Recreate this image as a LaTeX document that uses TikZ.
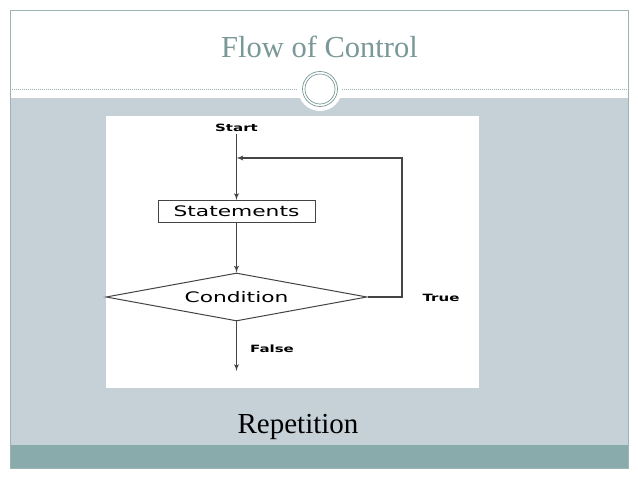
\documentclass[tikz,border=0pt]{standalone}
\usepackage{fontspec}
\setmainfont{Liberation Serif}
\newfontfamily\chartfont{DejaVu Sans}
\usepackage{graphicx}
\usetikzlibrary{arrows,shapes}
\definecolor{slidegray}{HTML}{C5D1D7}
\definecolor{slideteal}{HTML}{8AABAB}
\definecolor{titleteal}{HTML}{7A9898}
\definecolor{frameline}{HTML}{9DB4B4}
\definecolor{chartline}{HTML}{444444}
\newcommand{\chartwide}[1]{\scalebox{1.5}[1]{#1}}

\begin{document}
\begin{tikzpicture}[x=1pt,y=-1pt,>=latex',auto]
    % slide look
    \tikzstyle{flowline}=[draw=chartline,line width=1.3pt]
    \tikzstyle{statement}=[rectangle,draw=chartline,line width=1pt,
    minimum width=157pt,minimum height=22pt,inner sep=0pt,
    font=\chartfont\fontsize{14.5}{16}\selectfont]
    \tikzstyle{decision}=[diamond,draw=chartline,line width=1pt,aspect=5.3,
    minimum width=261pt,minimum height=48pt,inner sep=0pt,
    font=\chartfont\fontsize{14.5}{16}\selectfont]
    \tikzstyle{tag}=[inner sep=2pt,font=\chartfont\bfseries\fontsize{10}{12}\selectfont]

    \useasboundingbox (0,0) rectangle (638,478);
    \fill[white] (0,0) rectangle (638,478);
    \fill[slidegray] (10,98) rectangle (628,445);
    \fill[slideteal] (10,445) rectangle (628,468);
    \draw[frameline,line width=0.8pt] (10,10) rectangle (628,468);
    \draw[frameline,line width=0.6pt,dash pattern=on 1pt off 1pt] (10,89) -- (628,89);
    \fill[white] (320,89) circle (22pt);
    \draw[titleteal,line width=0.7pt] (320,89) circle (17.5pt) (320,89) circle (15pt);
    \node[titleteal,anchor=base,inner sep=0pt,font=\fontsize{30.5}{34}\selectfont] (title) at (319.5,58) {Flow of Control};
    \node[anchor=base,inner sep=0pt,font=\fontsize{29}{32}\selectfont] (caption) at (298,434) {Repetition};

    % flow chart
    \fill[white] (106,116) rectangle (479,388);
    \node[tag] (start) at (236.5,128) {\chartwide{Start}};
    \node[statement] (stmt) at (236.5,211.5) {\chartwide{Statements}};
    \node[decision] (cond) at (236.5,297) {\chartwide{Condition}};
    \node[tag] (true) at (441,298) {\chartwide{True}};
    \node[tag] (false) at (272,349) {\chartwide{False}};
    \coordinate (loopc) at (402,158);
    \coordinate (loopm) at (236.5,158);
    \coordinate (exit) at (236.5,371);

    \draw[flowline,->] (start) -- (stmt);
    \draw[flowline,->] (stmt) -- (cond);
    \draw[flowline,->] (cond.east) -| (loopc) -- (loopm);
    \draw[flowline,->] (cond) -- (exit);
\end{tikzpicture}
\end{document}
